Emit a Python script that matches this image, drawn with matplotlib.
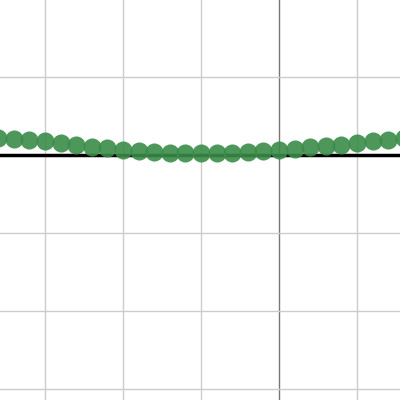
import matplotlib
matplotlib.use('Agg')
import matplotlib.pyplot as plt
import numpy as np

xs = [-3.6, -3.4, -3.2, -3.0, -2.8, -2.6, -2.4, -2.2, -2.0, -1.8, -1.6, -1.4, -1.2, -1.0,
      -0.8, -0.6, -0.4, -0.2, 0.0, 0.2, 0.4, 0.6, 0.8, 1.0, 1.2, 1.4, 1.6]
ys = [0.22, 0.20, 0.19, 0.18, 0.15, 0.13, 0.10, 0.09, 0.06, 0.05, 0.04, 0.03, 0.03, 0.03,
      0.03, 0.03, 0.04, 0.05, 0.06, 0.08, 0.10, 0.12, 0.13, 0.15, 0.18, 0.19, 0.22]

fig = plt.figure(figsize=(4, 4), dpi=100)
ax = fig.add_axes([0, 0, 1, 1])
ax.set_xlim(-279 / 78, 121 / 78)
ax.set_ylim(-245 / 78, 155 / 78)

for v in np.arange(-3, 2, 1):
    ax.axvline(v, color='#cccccc' if v != 0 else '#777777', lw=1, zorder=0)
for v in np.arange(-3, 2, 1):
    ax.axhline(v, color='#cccccc', lw=1, zorder=0)
ax.axhline(0, color='black', lw=2.5, zorder=1)

ax.plot(xs, ys, 'o', color='#3a8c48', alpha=0.9, markersize=13, markeredgewidth=0, zorder=2)
ax.axis('off')
fig.savefig('out.png')
